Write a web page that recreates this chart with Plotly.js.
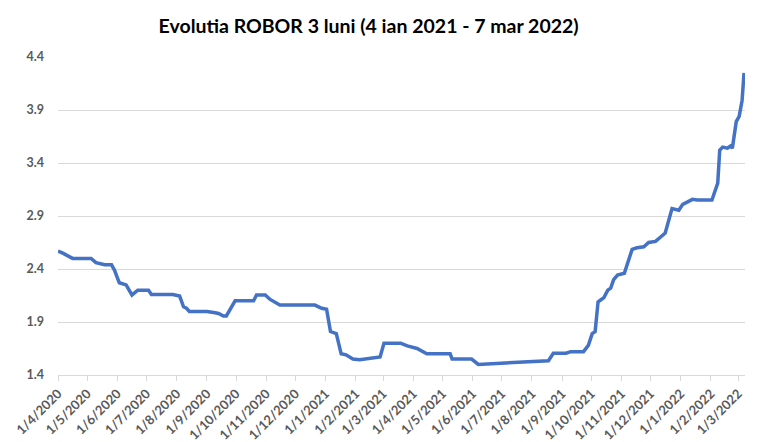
<!DOCTYPE html>
<html>
<head>
<meta charset="utf-8">
<script src="https://cdn.plot.ly/plotly-3.0.1.min.js"></script>
<style>html,body{margin:0;padding:0;background:#fff;}#chart{width:768px;height:442px;}</style>
</head>
<body>
<div id="chart"></div>
<script>
const titleText = "Evolutia ROBOR 3 luni (4 ian 2021 - 7 mar 2022)";
const dates = [
"2020-04-01","2020-04-06","2020-04-16","2020-05-05","2020-05-10","2020-05-19","2020-05-26","2020-05-29",
"2020-06-03","2020-06-10","2020-06-16","2020-06-22","2020-07-03","2020-07-06","2020-07-28","2020-08-04",
"2020-08-08","2020-08-11","2020-08-14","2020-09-01","2020-09-08","2020-09-13","2020-09-18","2020-09-21",
"2020-09-30","2020-10-19","2020-10-22","2020-10-31","2020-11-05","2020-11-15","2020-12-21","2020-12-28",
"2021-01-02","2021-01-06","2021-01-12","2021-01-17","2021-01-22","2021-01-29","2021-02-05","2021-02-26",
"2021-03-02","2021-03-19","2021-03-26","2021-04-05","2021-04-15","2021-05-09","2021-05-11","2021-05-31",
"2021-06-07","2021-06-26","2021-07-10","2021-07-27","2021-08-18","2021-08-23","2021-09-05","2021-09-10",
"2021-09-23","2021-09-28","2021-10-02","2021-10-05","2021-10-08","2021-10-11","2021-10-14","2021-10-18",
"2021-10-21","2021-10-24","2021-10-28","2021-11-04","2021-11-07","2021-11-12","2021-11-17","2021-11-24",
"2021-11-29","2021-12-06","2021-12-11","2021-12-16","2021-12-23","2021-12-30","2022-01-03","2022-01-08",
"2022-01-13","2022-01-18","2022-02-02","2022-02-08","2022-02-10","2022-02-13","2022-02-18","2022-02-21",
"2022-02-23","2022-02-27","2022-03-02","2022-03-05","2022-03-07"
];
const robor = [
2.57,2.55,2.50,2.50,2.46,2.44,2.44,2.39,
2.27,2.25,2.155,2.20,2.20,2.16,2.16,2.145,
2.044,2.03,2.00,2.00,1.99,1.98,1.957,1.957,
2.10,2.10,2.155,2.155,2.113,2.06,2.06,2.03,
2.02,1.81,1.79,1.60,1.59,1.55,1.545,1.57,
1.70,1.70,1.674,1.65,1.60,1.60,1.55,1.55,
1.50,1.51,1.51,1.525,1.535,1.605,1.605,1.62,
1.62,1.68,1.79,1.81,2.09,2.11,2.13,2.20,
2.22,2.30,2.343,2.36,2.44,2.585,2.60,2.61,
2.65,2.66,2.70,2.74,2.97,2.955,3.01,3.035,
3.057,3.05,3.05,3.21,3.52,3.55,3.54,3.56,
3.54,3.79,3.84,3.99,4.25
];
const yTicks = [1.4,1.9,2.4,2.9,3.4,3.9,4.4];

const trace = {
  x: dates, y: robor, type: "scatter", mode: "lines",
  line: {color: "#4472C4", width: 3.5, shape: "linear"},
  hoverinfo: "x+y"
};
const font = "Lato, 'Open Sans', 'Liberation Sans', sans-serif";
const layout = {
  width: 768, height: 442,
  margin: {l: 58, r: 23, t: 57, b: 67},
  paper_bgcolor: "#fff", plot_bgcolor: "#fff",
  showlegend: false,
  title: {text: "<b>" + titleText + "</b>", x: 0.48, xanchor: "center", y: 0.94, yanchor: "middle",
          font: {family: font, size: 19.5, color: "#000"}},
  xaxis: {
    type: "date", range: ["2020-04-01", "2022-03-08"],
    tick0: "2020-04-01", dtick: "M1", tickformat: "%-d/%-m/%Y", tickangle: -45,
    showgrid: false, zeroline: false,
    showline: true, linecolor: "#d9d9d9", linewidth: 1,
    ticks: "outside", ticklen: 5, tickcolor: "#d9d9d9",
    tickfont: {family: font, size: 13, color: "#595959", weight: "bold"},
    automargin: false
  },
  yaxis: {
    range: [1.4, 4.4], tickvals: yTicks, ticktext: yTicks.map(v => v.toFixed(1)),
    showgrid: true, gridcolor: "#d9d9d9", gridwidth: 1, zeroline: false,
    showline: false, ticks: "", ticklabelstandoff: 13,
    tickfont: {family: font, size: 12.5, color: "#595959", weight: "bold"},
    automargin: false
  }
};
Plotly.newPlot("chart", [trace], layout, {displayModeBar: false, staticPlot: true});
</script>
</body>
</html>
